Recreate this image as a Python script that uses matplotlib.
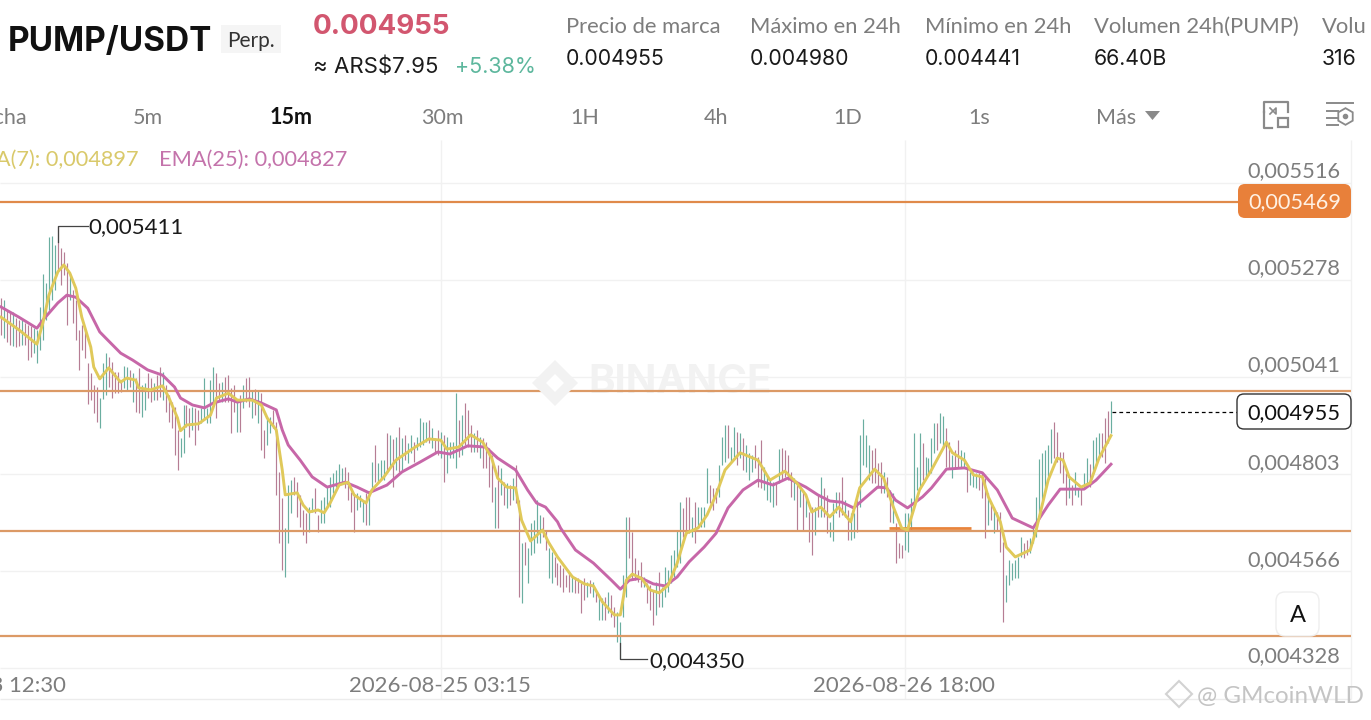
"""
PUMP/USDT 15m perp chart screenshot with EMA lines and drawn levels.
"""

import matplotlib
matplotlib.use("Agg")
import matplotlib.pyplot as plt
from matplotlib.patches import FancyBboxPatch, Polygon, Rectangle

# prices are in millionths of USDT, one entry per 15m candle
highs = [
    5234, 5229, 5205, 5200, 5200, 5185, 5180, 5180, 5173, 5168, 5165, 5160, 5156, 5212, 5293, 5271, 5383, 5386, 5364, 5411,
    5356, 5346, 5320, 5290, 5254, 5229, 5156, 5168, 5156, 5075, 5050, 5021, 5016, 4989, 5075, 5099, 5089, 5077, 5053, 5053,
    5033, 5067, 5065, 5058, 5050, 5038, 5063, 5021, 5026, 5050, 5038, 5026, 5045, 5065, 5053, 5021, 4996, 4979, 4967, 4911,
    4891, 4972, 4972, 4965, 4967, 4965, 4960, 4965, 5038, 4965, 5033, 5065, 5050, 5026, 5028, 5041, 5045, 5014, 5021, 4984,
    4996, 5021, 5038, 5041, 5009, 5011, 5009, 5001, 4911, 4940, 4943, 4960, 4930, 4808, 4744, 4671, 4776, 4788, 4796, 4783,
    4752, 4715, 4708, 4722, 4744, 4769, 4703, 4739, 4747, 4771, 4796, 4806, 4813, 4828, 4818, 4820, 4808, 4759, 4752, 4757,
    4752, 4739, 4757, 4759, 4832, 4874, 4830, 4837, 4837, 4903, 4899, 4889, 4894, 4918, 4891, 4899, 4879, 4899, 4881, 4894,
    4940, 4930, 4930, 4935, 4916, 4891, 4911, 4906, 4899, 4894, 4881, 4881, 5001, 4935, 4947, 4977, 4960, 4923, 4903, 4911,
    4894, 4891, 4881, 4867, 4850, 4771, 4825, 4818, 4783, 4781, 4776, 4793, 4825, 4739, 4634, 4636, 4622, 4683, 4690, 4739,
    4703, 4698, 4666, 4622, 4612, 4600, 4585, 4580, 4573, 4556, 4561, 4556, 4551, 4548, 4536, 4548, 4539, 4543, 4539, 4514,
    4502, 4499, 4502, 4514, 4507, 4477, 4465, 4440, 4556, 4698, 4698, 4661, 4597, 4568, 4588, 4551, 4536, 4531, 4519, 4539,
    4563, 4526, 4575, 4568, 4605, 4617, 4666, 4734, 4720, 4747, 4747, 4698, 4734, 4722, 4722, 4722, 4818, 4776, 4769, 4769,
    4825, 4894, 4923, 4923, 4869, 4918, 4906, 4903, 4891, 4874, 4855, 4850, 4874, 4845, 4886, 4820, 4801, 4788, 4783, 4781,
    4864, 4867, 4862, 4850, 4808, 4793, 4781, 4781, 4764, 4744, 4710, 4722, 4722, 4752, 4796, 4769, 4752, 4686, 4732, 4759,
    4759, 4796, 4739, 4715, 4708, 4708, 4744, 4899, 4938, 4899, 4874, 4862, 4867, 4830, 4832, 4808, 4796, 4764, 4757, 4683,
    4634, 4629, 4708, 4708, 4744, 4903, 4820, 4903, 4879, 4845, 4842, 4891, 4928, 4928, 4952, 4945, 4916, 4881, 4850, 4862,
    4886, 4862, 4857, 4825, 4808, 4808, 4806, 4806, 4806, 4793, 4757, 4734, 4722, 4710, 4710, 4636, 4556, 4592, 4585, 4592,
    4600, 4649, 4634, 4641, 4646, 4673, 4747, 4840, 4855, 4862, 4874, 4913, 4930, 4906, 4857, 4857, 4806, 4793, 4776, 4808,
    4769, 4771, 4806, 4842, 4828, 4886, 4894, 4903, 4903, 4940, 4957, 4982,
]
lows = [
    5143, 5136, 5126, 5119, 5116, 5114, 5116, 5119, 5119, 5082, 5089, 5099, 5075, 5107, 5131, 5180, 5205, 5229, 5254, 5302,
    5266, 5290, 5168, 5229, 5173, 5131, 5058, 5107, 5087, 4974, 4984, 4952, 4930, 4916, 4987, 4996, 5016, 4989, 5001, 5001,
    5004, 5014, 5009, 5016, 4979, 4955, 4952, 4943, 4960, 4989, 4979, 4984, 4984, 4992, 4984, 4955, 4930, 4916, 4850, 4813,
    4845, 4855, 4918, 4894, 4911, 4874, 4911, 4928, 4935, 4928, 4928, 4977, 4940, 4984, 4979, 4979, 4979, 4903, 4955, 4906,
    4906, 4965, 4979, 4967, 4940, 4947, 4928, 4862, 4842, 4874, 4903, 4916, 4752, 4633, 4568, 4551, 4634, 4708, 4752, 4698,
    4673, 4654, 4634, 4661, 4710, 4708, 4661, 4683, 4683, 4720, 4722, 4757, 4771, 4781, 4781, 4769, 4739, 4710, 4661, 4715,
    4722, 4686, 4678, 4678, 4764, 4783, 4781, 4788, 4788, 4806, 4818, 4771, 4813, 4808, 4813, 4837, 4830, 4855, 4832, 4862,
    4869, 4874, 4881, 4879, 4867, 4857, 4850, 4842, 4783, 4806, 4842, 4842, 4818, 4845, 4850, 4874, 4869, 4857, 4857, 4857,
    4842, 4818, 4818, 4771, 4734, 4671, 4671, 4752, 4727, 4720, 4727, 4739, 4732, 4502, 4487, 4580, 4536, 4605, 4609, 4634,
    4634, 4649, 4617, 4548, 4536, 4551, 4531, 4526, 4514, 4526, 4514, 4514, 4512, 4512, 4463, 4494, 4502, 4512, 4502, 4490,
    4445, 4445, 4445, 4463, 4453, 4428, 4392, 4350, 4453, 4502, 4597, 4543, 4543, 4539, 4526, 4526, 4487, 4470, 4433, 4458,
    4477, 4477, 4502, 4514, 4536, 4551, 4575, 4585, 4649, 4654, 4658, 4649, 4634, 4673, 4673, 4673, 4732, 4732, 4715, 4732,
    4747, 4825, 4832, 4842, 4832, 4845, 4825, 4842, 4813, 4808, 4788, 4808, 4818, 4771, 4769, 4764, 4739, 4734, 4722, 4727,
    4781, 4788, 4796, 4788, 4747, 4739, 4666, 4722, 4666, 4698, 4636, 4605, 4654, 4698, 4698, 4698, 4658, 4649, 4639, 4708,
    4698, 4703, 4698, 4641, 4641, 4646, 4661, 4722, 4825, 4820, 4788, 4781, 4781, 4769, 4757, 4757, 4747, 4686, 4683, 4585,
    4597, 4597, 4617, 4612, 4666, 4732, 4764, 4771, 4788, 4793, 4801, 4806, 4855, 4862, 4879, 4869, 4820, 4818, 4793, 4818,
    4820, 4820, 4820, 4759, 4776, 4771, 4769, 4764, 4744, 4646, 4678, 4690, 4658, 4666, 4612, 4440, 4490, 4531, 4543, 4548,
    4548, 4600, 4597, 4605, 4609, 4634, 4649, 4710, 4739, 4764, 4793, 4830, 4842, 4832, 4806, 4781, 4727, 4744, 4727, 4752,
    4747, 4727, 4769, 4771, 4771, 4813, 4832, 4842, 4845, 4830, 4879, 4903,
]
# g = close above open, r = close below open
candle_dirs = (
    "rgrrgrrgrrrggggggggr"
    "rrrgrrrrrrrrrgggrrrr"
    "rggrgrrggrrgrrgrrrrr"
    "ggrrgrrgggggrrgrrrrg"
    "rgrrgrgrrggrrrrgggrr"
    "rrrggrrggggggggrrrrg"
    "ggrggrgggrgrgrgrggrg"
    "gggrgrrgrggggrgrrrgr"
    "grrrrgrgrgrgrrgrgggg"
    "grrggrrrrrrgrrrrgrgr"
    "ggrgrrggggrrrrrgrrrg"
    "rgggggggrrrgrggggrrr"
    "gggrggrgrgggrrrggggr"
    "grrrrgrgrgrrgrgrrggg"
    "rrgrggrggggrrrrgrrgr"
    "rrggggggrggggrggrrgr"
    "rggrgggrrrgrgrrrgggg"
    "ggrrggggggggrrrrrgrg"
    "grggrgggrrrg"
)

ema7_idx = [
    0, 6, 12, 14, 16, 19, 21, 23, 25, 27, 30, 31, 33, 36, 38, 40, 42, 45, 46, 50, 54, 56, 59, 60, 62, 66, 70, 72, 76, 79,
    84, 87, 89, 92, 94, 95, 99, 101, 103, 106, 108, 110, 113, 116, 118, 122, 124, 128, 132, 138, 143, 147, 149, 153, 157,
    161, 164, 166, 169, 172, 174, 177, 181, 183, 186, 191, 195, 198, 201, 205, 207, 209, 211, 214, 217, 220, 223, 226,
    229, 233, 236, 239, 242, 247, 253, 257, 262, 266, 269, 271, 274, 277, 280, 284, 287, 292, 295, 298, 301, 303, 307,
    311, 316, 318, 322, 325, 328, 330, 334, 336, 339, 344, 346, 350, 353, 355, 357, 361, 364, 367, 371,
]
ema7_vals = [
    5187, 5156, 5121, 5173, 5241, 5298, 5315, 5295, 5258, 5187, 5114, 5065, 5036, 5063, 5045, 5028, 5038, 5033, 5014, 5009,
    5019, 4992, 4940, 4909, 4923, 4926, 4947, 4989, 5001, 4984, 4984, 4972, 4940, 4911, 4813, 4752, 4757, 4727, 4710, 4715,
    4708, 4732, 4776, 4783, 4752, 4732, 4764, 4796, 4837, 4867, 4889, 4886, 4864, 4869, 4899, 4881, 4842, 4793, 4771, 4769,
    4690, 4639, 4666, 4636, 4600, 4551, 4534, 4529, 4490, 4458, 4458, 4543, 4558, 4548, 4519, 4512, 4531, 4585, 4658, 4671,
    4703, 4752, 4813, 4855, 4837, 4788, 4810, 4781, 4752, 4710, 4722, 4698, 4722, 4686, 4769, 4815, 4793, 4727, 4671, 4666,
    4764, 4813, 4881, 4855, 4837, 4801, 4796, 4747, 4686, 4624, 4600, 4617, 4666, 4788, 4842, 4837, 4796, 4771, 4781, 4842,
    4897,
]
ema25_idx = [
    0, 6, 12, 14, 19, 22, 25, 29, 33, 35, 40, 44, 49, 54, 58, 60, 64, 68, 71, 76, 79, 83, 87, 92, 94, 96, 100, 104, 109,
    115, 119, 123, 129, 134, 140, 146, 150, 156, 162, 166, 172, 176, 179, 182, 186, 187, 192, 198, 204, 207, 210, 214,
    218, 222, 226, 230, 235, 239, 243, 248, 253, 258, 263, 269, 273, 277, 281, 285, 293, 296, 299, 303, 308, 311, 316,
    322, 328, 333, 338, 345, 350, 354, 362, 366, 371,
]
ema25_vals = [
    5212, 5187, 5160, 5180, 5222, 5241, 5236, 5209, 5151, 5136, 5099, 5082, 5058, 5045, 5016, 4989, 4972, 4965, 4977, 4987,
    4979, 4987, 4977, 4960, 4911, 4874, 4837, 4796, 4771, 4783, 4771, 4757, 4776, 4808, 4832, 4857, 4852, 4872, 4869, 4842,
    4813, 4764, 4732, 4722, 4686, 4671, 4617, 4585, 4543, 4521, 4543, 4548, 4534, 4529, 4551, 4588, 4624, 4658, 4720, 4764,
    4788, 4776, 4793, 4771, 4752, 4737, 4734, 4720, 4771, 4769, 4739, 4720, 4747, 4769, 4815, 4818, 4806, 4764, 4695, 4671,
    4727, 4766, 4766, 4788, 4827,
]

level_prices = [5469, 5006, 4663, 4406]
level_colors = ["#e08a4a", "#dc9a66", "#dc9a66", "#dc9a66"]
short_level = 4670
short_level_span = [296.8, 324.2]

price_ticks = [5516, 5278, 5041, 4803, 4566, 4328]
price_labels = ["0,005516", "0,005278", "0,005041", "0,004803", "0,004566", "0,004328"]
time_ticks = [-8, 147, 302]
time_labels = ["2026-08-23 12:30", "2026-08-25 03:15", "2026-08-26 18:00"]

periods = ["5m", "15m", "30m", "1H", "4h", "1D", "1s"]
period_pos = [148, 291, 442, 585, 716, 848, 979]
stat_names = ["Precio de marca", "Máximo en 24h", "Mínimo en 24h", "Volumen 24h(PUMP)", "Volu"]
stat_values = ["0.004955", "0.004980", "0.004441", "66.40B", "316"]
stat_pos = [566, 750, 925, 1094, 1322]

GREEN = "#6aaea0"
RED = "#b67d94"
YELLOW = "#e0c95a"
MAGENTA = "#c767a8"
GREY = "#7d7d7d"
FONT = "Lato"

plt.rcParams["font.family"] = [FONT, "DejaVu Sans"]

fig = plt.figure(figsize=(13.71, 7.2), dpi=100, facecolor="white")

# chart axes fill the whole picture, one candle is about 3 px
ax = fig.add_axes([0, 0, 1, 1])
ax.set_xlim(-0.334, 457.9)
ax.set_ylim(4200.7, 5963.7)
ax.axis("off")

ax.hlines(price_ticks, -0.334, 451.2, color="#f1f1f1", lw=1, zorder=1)
ax.vlines(time_ticks[1:], 4251, 5620, color="#f1f1f1", lw=1, zorder=1)
ax.vlines(451.2, 4251, 5620, color="#f1f1f1", lw=1, zorder=1)
ax.hlines(4251, -0.334, 451.2, color="#ececec", lw=1, zorder=1)

# faint exchange mark behind the candles
ax.text(227, 5028, "BINANCE", color="#f2f2f2", fontsize=29, fontweight="bold",
        ha="center", va="center", family="Inter", zorder=1)

for i, (hi, lo, d) in enumerate(zip(highs, lows, candle_dirs)):
    ax.vlines(i, lo, hi, color=GREEN if d == "g" else RED, lw=0.85, zorder=2)

for price, color in zip(level_prices, level_colors):
    ax.hlines(price, -0.334, 451.2, color=color, lw=1.6, zorder=3)
ax.hlines(short_level, short_level_span[0], short_level_span[1], color="#e8843c", lw=2, zorder=3)

ax.plot(ema25_idx, ema25_vals, color=MAGENTA, lw=2.1, zorder=4, solid_joinstyle="round")
ax.plot(ema7_idx, ema7_vals, color=YELLOW, lw=2.1, zorder=5, solid_joinstyle="round")

# high / low callouts and the last price line
ax.plot([19, 19, 29], [max(highs) - 40, max(highs), max(highs)], color="#444444", lw=0.9, zorder=6)
ax.text(29.2, max(highs) - 4, "0,005411", fontsize=16, va="center", color="#1a1a1a", zorder=6)
ax.plot([207, 207, 216], [min(lows) + 40, min(lows), min(lows)], color="#444444", lw=0.9, zorder=6)
ax.text(216.7, min(lows) - 4, "0,004350", fontsize=16, va="center", color="#1a1a1a", zorder=6)
ax.hlines(4955, 371.5, 413, color="black", lw=0.9, linestyles=(0, (3, 2.5)), zorder=6)

# everything around the chart is placed in pixels on a second layer
ui = fig.add_axes([0, 0, 1, 1])
ui.set_xlim(0, 1371)
ui.set_ylim(720, 0)
ui.axis("off")
ui.patch.set_alpha(0)

ui.text(8, 42, "PUMP/USDT", fontsize=24, fontweight="bold", va="center", family="Inter", color="#111111")
ui.add_patch(Rectangle((221, 25), 60, 28, color="#f5f5f5", lw=0))
ui.text(251, 41, "Perp.", fontsize=15, ha="center", va="center", color="#333333")
ui.text(313, 27, "0.004955", fontsize=20, fontweight="bold", va="center", color="#d2566f", family="Inter")
ui.text(313, 67, "≈ ARS$7.95", fontsize=16, va="center", color="#1c1c1c", family="Inter")
ui.text(455, 67, "+5.38%", fontsize=15.5, va="center", color="#5db79d", family="Inter")

for name, value, x in zip(stat_names, stat_values, stat_pos):
    ui.text(x, 27, name, fontsize=15.8, va="center", color=GREY)
    ui.text(x, 59, value, fontsize=15.3, va="center", color="#1a1a1a", family="Inter")

ui.text(27, 118, "Fecha", fontsize=15.5, ha="right", va="center", color=GREY)
for label, x in zip(periods, period_pos):
    active = label == "15m"
    ui.text(x, 118, label, fontsize=15.5, ha="center", va="center",
            color="#111111" if active else GREY, fontweight="bold" if active else "normal")
ui.text(1116, 118, "Más", fontsize=15.5, ha="center", va="center", color=GREY)
ui.add_patch(Polygon([(1145, 111), (1160, 111), (1152.5, 120)], color="#8a8a8a", lw=0))

# two toolbar icons
ui.plot([1264, 1264, 1272], [112, 128, 128], color="#8a8a8a", lw=1.6)
ui.plot([1264, 1264, 1288, 1288], [112, 102, 102, 112], color="#8a8a8a", lw=1.6)
ui.add_patch(Rectangle((1278, 118), 10, 9, fill=False, ec="#8a8a8a", lw=1.6))
ui.plot([1270, 1276, 1276, 1270], [108, 114, 108, 114], color="#8a8a8a", lw=1.2)
ui.plot([1327, 1353], [103, 103], color="#8a8a8a", lw=1.4)
ui.plot([1327, 1338], [111, 111], color="#8a8a8a", lw=1.4)
ui.plot([1327, 1338], [118, 118], color="#8a8a8a", lw=1.4)
ui.plot([1327, 1338], [125, 125], color="#8a8a8a", lw=1.4)
ui.plot([1345], [116], marker="h", ms=12, mfc="white", mec="#8a8a8a", mew=1.3)
ui.plot([1345], [116], marker="o", ms=3, color="#8a8a8a")

ui.text(139, 160, "EMA(7): 0,004897", fontsize=15.7, ha="right", va="center", color="#d9c96a")
ui.text(159, 160, "EMA(25): 0,004827", fontsize=15.7, va="center", color="#c473ab")

for label, y in zip(price_labels, [171, 268, 365, 463, 560, 656]):
    ui.text(1340, y, label, fontsize=15.7, ha="right", va="center", color=GREY)
for label, x in zip(time_labels, [-25, 440, 904]):
    ui.text(x, 686, label, fontsize=15.9, ha="center", va="center", color=GREY)

ui.add_patch(FancyBboxPatch((1242, 188), 105, 26, boxstyle="round,pad=4,rounding_size=7", fc="#e8803a", ec="none"))
ui.text(1294.5, 202, "0,005469", fontsize=15.7, ha="center", va="center", color="#fff1e4")
ui.add_patch(FancyBboxPatch((1241, 398), 106, 27, boxstyle="round,pad=4,rounding_size=7", fc="white", ec="#333333", lw=1))
ui.text(1294, 413, "0,004955", fontsize=15.7, ha="center", va="center", color="#111111")

ui.add_patch(FancyBboxPatch((1280, 596), 35, 36, boxstyle="round,pad=4,rounding_size=9", fc="white", ec="#eeeeee", lw=1))
ui.text(1297.5, 615, "A", fontsize=17, ha="center", va="center", color="#111111")

# watermark logos
ui.add_patch(Polygon([(555, 360), (578, 383), (555, 406), (532, 383)], fc="#f2f2f2", ec="none", zorder=0))
ui.add_patch(Polygon([(555, 374), (564, 383), (555, 392), (546, 383)], fc="white", ec="none", zorder=0))
ui.add_patch(Polygon([(1179, 681), (1192, 694), (1179, 707), (1166, 694)], fc="none", ec="#d2d2d2", lw=1.5))
ui.text(1197, 696, "@ GMcoinWLD", fontsize=17.4, va="center", color="#c4c4c4")

fig.savefig("out.png", dpi=100, facecolor="white")
